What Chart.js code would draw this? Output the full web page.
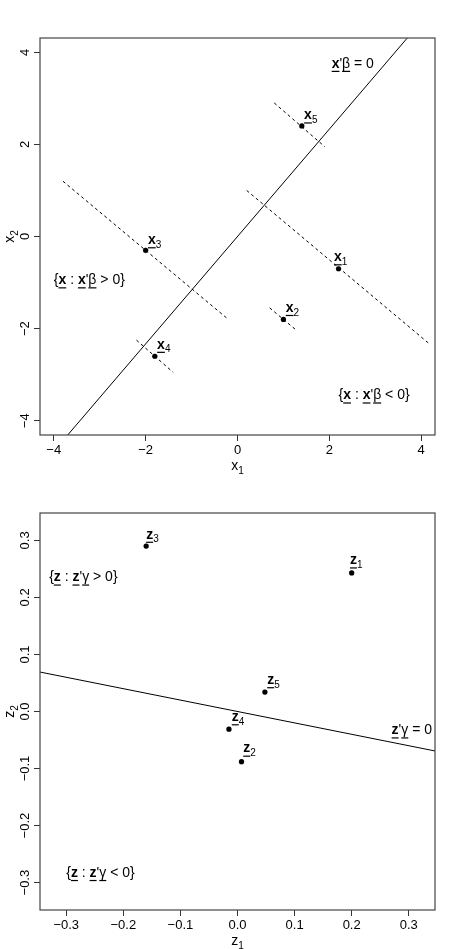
<!DOCTYPE html>
<html><head><meta charset="utf-8">
<script src="https://cdn.jsdelivr.net/npm/chart.js@4/dist/chart.umd.min.js"></script>
<style>body{margin:0;background:#fff}canvas{display:block}</style>
</head><body>
<canvas id="top" width="474" height="474"></canvas>
<canvas id="bot" width="474" height="475"></canvas>
<script>
// top panel data
const xPts = [[2.2,-0.7],[1.0,-1.8],[-2.0,-0.3],[-1.8,-2.6],[1.4,2.4]];
const xLine = [[-4.4,-5.13],[4.4,5.13]];
const xDash = [
  [[0.2,1.0],[4.2,-2.35]],
  [[0.7,-1.55],[1.3,-2.05]],
  [[-3.8,1.2],[-0.2,-1.8]],
  [[-2.2,-2.25],[-1.4,-2.95]],
  [[0.8,2.9],[1.9,1.95]]
];
const xTicks = [-4,-2,0,2,4];
// bottom panel data
const zPts = [[0.2,0.243],[0.007,-0.088],[-0.16,0.29],[-0.015,-0.031],[0.048,0.034]];
const zLine = [[-0.4,0.08],[0.4,-0.08]];
const zTicks = [-0.3,-0.2,-0.1,0.0,0.1,0.2,0.3];

const F = '"Liberation Sans", Arial, sans-serif';

function drawRich(ctx, x, y, segs, align) {
  let w = 0;
  ctx.textAlign = 'left';
  segs.forEach(s => { ctx.font = (s.b ? 'bold ' : '') + (s.sub ? 10 : 14) + 'px ' + F; s.w = ctx.measureText(s.t).width; w += s.w; });
  let cx = align === 'right' ? x - w : align === 'center' ? x - w / 2 : x;
  segs.forEach(s => {
    ctx.font = (s.b ? 'bold ' : '') + (s.sub ? 10 : 14) + 'px ' + F;
    ctx.fillStyle = '#000';
    ctx.textBaseline = 'middle';
    ctx.fillText(s.t, cx, y + (s.sub ? 5 : 0));
    if (s.u) { ctx.fillRect(cx, y + 7, s.w, 1.2); }
    cx += s.w;
  });
}

function makeChart(id, pts, line, dashes, ticks, lim, letter, texts, ptLabels, padTop, fmt) {
  const datasets = [
    {type:'line', data: line.map(p=>({x:p[0],y:p[1]})), borderColor:'#000', borderWidth:1, pointRadius:0},
    {type:'scatter', data: pts.map(p=>({x:p[0],y:p[1]})), backgroundColor:'#000', pointRadius:2.6}
  ];
  dashes.forEach(d => datasets.push({type:'line', data: d.map(p=>({x:p[0],y:p[1]})), borderColor:'#000', borderWidth:1, borderDash:[3,3], pointRadius:0}));
  const axis = (min,max) => ({type:'linear', min, max,
    afterBuildTicks: s => { s.ticks = ticks.map(v=>({value:v})); },
    ticks:{callback:()=>'', padding:0},
    grid:{drawOnChartArea:false, color:'#000', tickLength:6, tickColor:'#333'},
    border:{display:false}});
  const sx = axis(-lim[0], lim[0]); sx.afterFit = s => { s.height = 39; };
  const sy = axis(-lim[1], lim[1]); sy.afterFit = s => { s.width = 40; };
  return new Chart(document.getElementById(id), {
    data:{datasets},
    options:{responsive:false, animation:false, clip:true,
      layout:{padding:{top:padTop, right:39, left:0, bottom:0}},
      plugins:{legend:{display:false}, tooltip:{enabled:false}},
      scales:{x:sx, y:sy}},
    plugins:[{id:'deco', afterDraw(c){
      const ctx = c.ctx, a = c.chartArea, X = c.scales.x, Y = c.scales.y;
      ctx.save();
      ctx.strokeStyle = '#444'; ctx.lineWidth = 1.2;
      ctx.strokeRect(a.left, a.top, a.right - a.left, a.bottom - a.top);
      ctx.fillStyle = '#000'; ctx.font = '13px ' + F;
      ticks.forEach(v => {
        ctx.font = '13px ' + F;
        ctx.textAlign = 'center'; ctx.textBaseline = 'top';
        ctx.fillText(fmt(v), X.getPixelForValue(v), a.bottom + 9);
        ctx.save(); ctx.translate(a.left - 15, Y.getPixelForValue(v)); ctx.rotate(-Math.PI/2);
        ctx.textBaseline = 'middle'; ctx.fillText(fmt(v), 0, 0); ctx.restore();
      });
      drawRich(ctx, (a.left+a.right)/2, a.bottom + 31, [{t:letter},{t:'1',sub:1}], 'center');
      ctx.save(); ctx.translate(10, (a.top+a.bottom)/2); ctx.rotate(-Math.PI/2);
      drawRich(ctx, 0, 0, [{t:letter},{t:'2',sub:1}], 'center'); ctx.restore();
      ptLabels.forEach((p,i) => drawRich(ctx, X.getPixelForValue(p[0]), Y.getPixelForValue(p[1]), [{t:letter,b:1,u:1},{t:String(i+1),sub:1}], 'left'));
      texts.forEach(t => drawRich(ctx, X.getPixelForValue(t.x), Y.getPixelForValue(t.y), t.segs, t.align));
      ctx.restore();
    }}]
  });
}

const xl = [[2.1,-0.45],[1.05,-1.55],[-1.95,-0.08],[-1.75,-2.35],[1.45,2.63]];
makeChart('top', xPts, xLine, xDash, xTicks, [4.3,4.31], 'x', [
  {x:2.05,y:3.75,align:'left',segs:[{t:'x',b:1,u:1},{t:"'"},{t:'β',u:1},{t:' = 0'}]},
  {x:-4.0,y:-0.95,align:'left',segs:[{t:'{'},{t:'x',b:1,u:1},{t:' : '},{t:'x',b:1,u:1},{t:"'"},{t:'β',u:1},{t:' > 0}'}]},
  {x:2.2,y:-3.45,align:'left',segs:[{t:'{'},{t:'x',b:1,u:1},{t:' : '},{t:'x',b:1,u:1},{t:"'"},{t:'β',u:1},{t:' < 0}'}]}
], xl, 38, v => v < 0 ? '\u2212' + Math.abs(v) : String(v));

const zl = [[0.197,0.265],[0.01,-0.065],[-0.16,0.31],[-0.01,-0.01],[0.052,0.055]];
makeChart('bot', zPts, zLine, [], zTicks, [0.346,0.348], 'z', [
  {x:0.27,y:-0.033,align:'left',segs:[{t:'z',b:1,u:1},{t:"'"},{t:'γ',u:1},{t:' = 0'}]},
  {x:-0.33,y:0.235,align:'left',segs:[{t:'{'},{t:'z',b:1,u:1},{t:' : '},{t:'z',b:1,u:1},{t:"'"},{t:'γ',u:1},{t:' > 0}'}]},
  {x:-0.3,y:-0.283,align:'left',segs:[{t:'{'},{t:'z',b:1,u:1},{t:' : '},{t:'z',b:1,u:1},{t:"'"},{t:'γ',u:1},{t:' < 0}'}]}
], zl, 39, v => v < 0 ? '\u2212' + Math.abs(v).toFixed(1) : v.toFixed(1));
</script>
</body></html>
